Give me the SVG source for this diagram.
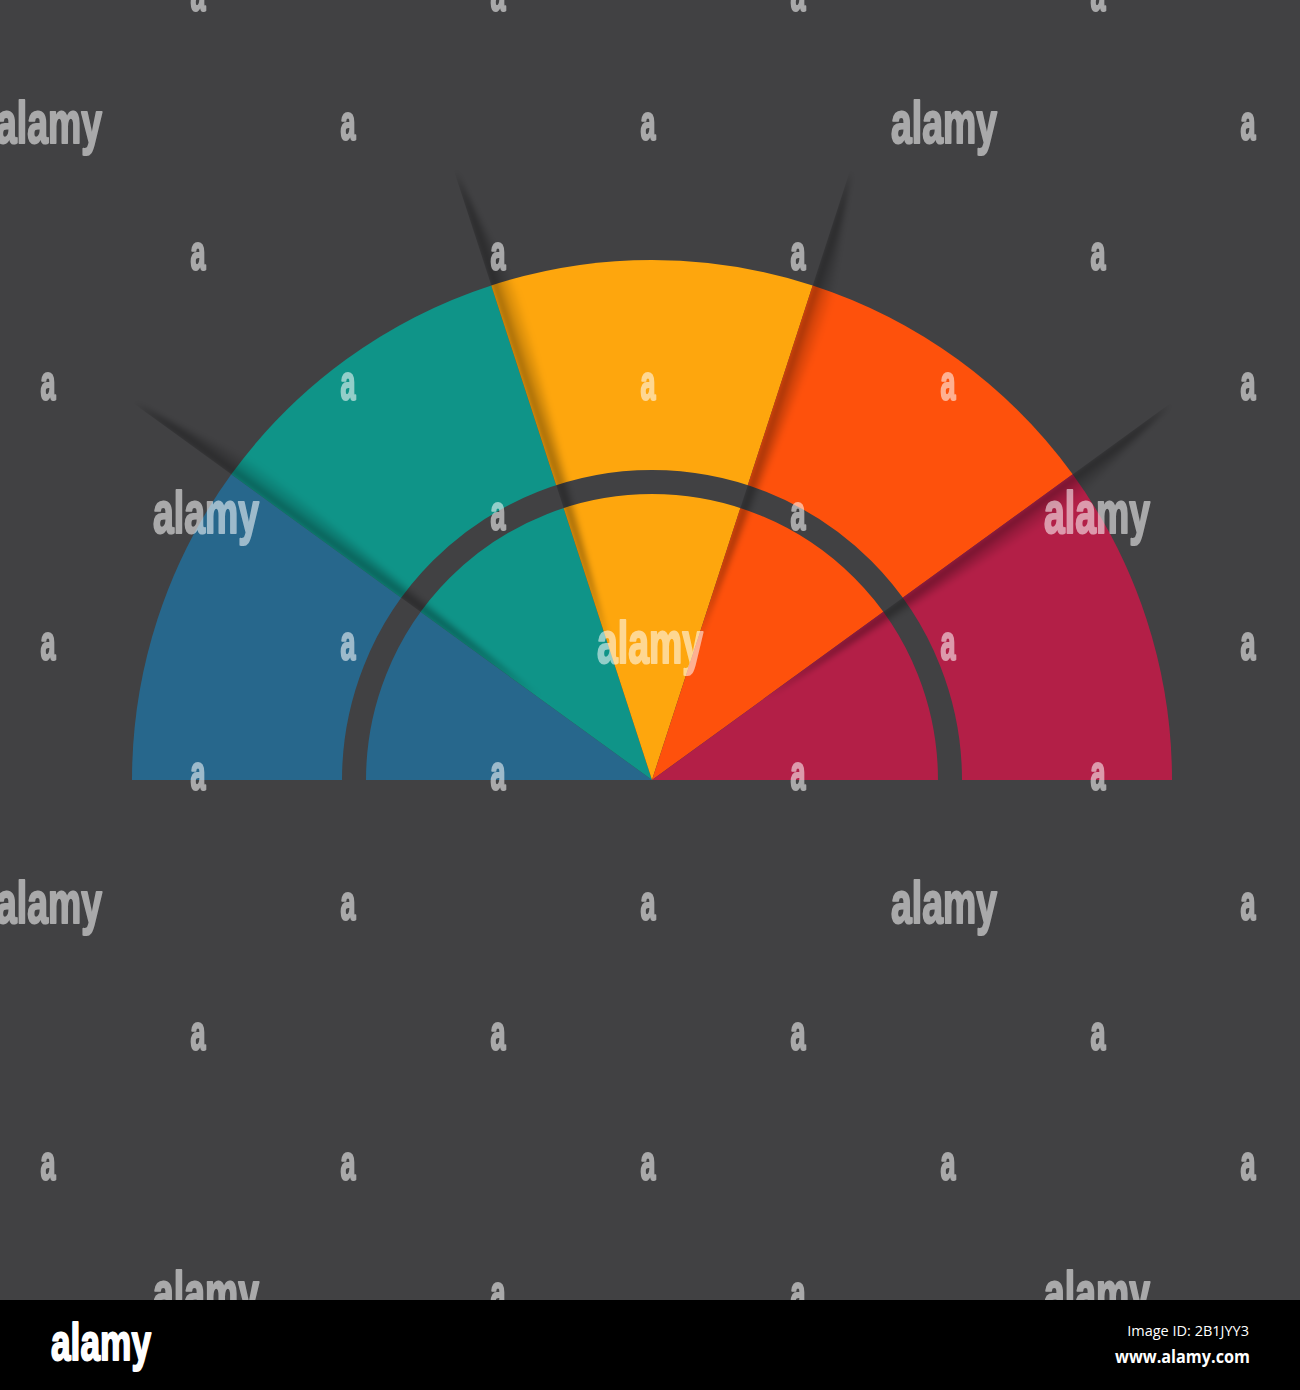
<svg xmlns="http://www.w3.org/2000/svg" width="1300" height="1390" viewBox="0 0 1300 1390">
<style>
.wm{font-family:"Liberation Sans",Arial,sans-serif;font-weight:bold;fill:#ffffff;stroke:#ffffff;stroke-width:2.2;stroke-linejoin:round;text-anchor:middle}
.big{font-size:60px}
.sm{font-size:50px}
</style>
<defs>
<linearGradient id="shg" gradientUnits="userSpaceOnUse" x1="0" y1="0" x2="0" y2="24">
<stop offset="0" stop-color="#000" stop-opacity="0.45"/>
<stop offset="0.4" stop-color="#000" stop-opacity="0.18"/>
<stop offset="1" stop-color="#000" stop-opacity="0"/>
</linearGradient>
<clipPath id="half" clipPathUnits="userSpaceOnUse"><rect x="0" y="0" width="800" height="80"/></clipPath>
<filter id="soft" x="-10%" y="-50%" width="120%" height="200%"><feGaussianBlur stdDeviation="3"/></filter>
</defs>
<rect width="1300" height="1390" fill="#414143"/>
<g id="chart">
<path id="seg-blue" d="M652,780 L132,780 A520,520 0 0 1 231.31,474.35 Z" fill="#27678C"/>
<path id="seg-teal" d="M652,780 L231.31,474.35 A520,520 0 0 1 491.31,285.45 Z" fill="#0F9488"/>
<path id="seg-yellow" d="M652,780 L491.31,285.45 A520,520 0 0 1 812.69,285.45 Z" fill="#FEA60D"/>
<path id="seg-orange" d="M652,780 L812.69,285.45 A520,520 0 0 1 1072.69,474.35 Z" fill="#FE510C"/>
<path id="seg-crimson" d="M652,780 L1072.69,474.35 A520,520 0 0 1 1172,780 Z" fill="#B31F47"/>
<path id="gap" d="M354,780 A298,298 0 0 1 950,780" fill="none" stroke="#414143" stroke-width="24"/>
</g>
<g id="shadows">
<g transform="translate(652,780) rotate(-144)"><path d="M140,0 L500,24 L640,0 Z" fill="url(#shg)" filter="url(#soft)" clip-path="url(#half)"/></g>
<g transform="translate(652,780) rotate(-108)"><path d="M140,0 L500,24 L640,0 Z" fill="url(#shg)" filter="url(#soft)" clip-path="url(#half)"/></g>
<g transform="translate(652,780) rotate(-72)"><path d="M140,0 L500,24 L640,0 Z" fill="url(#shg)" filter="url(#soft)" clip-path="url(#half)"/></g>
<g transform="translate(652,780) rotate(-36)"><path d="M140,0 L500,24 L640,0 Z" fill="url(#shg)" filter="url(#soft)" clip-path="url(#half)"/></g>
</g>
<g id="watermarks" opacity="0.55">
<text class="wm big" x="49" y="143" textLength="106" lengthAdjust="spacingAndGlyphs">alamy</text>
<text class="wm big" x="944" y="143" textLength="106" lengthAdjust="spacingAndGlyphs">alamy</text>
<text class="wm big" x="206" y="533" textLength="106" lengthAdjust="spacingAndGlyphs">alamy</text>
<text class="wm big" x="1097" y="533" textLength="106" lengthAdjust="spacingAndGlyphs">alamy</text>
<text class="wm big" x="650" y="663" textLength="106" lengthAdjust="spacingAndGlyphs">alamy</text>
<text class="wm big" x="49" y="923" textLength="106" lengthAdjust="spacingAndGlyphs">alamy</text>
<text class="wm big" x="944" y="923" textLength="106" lengthAdjust="spacingAndGlyphs">alamy</text>
<text class="wm big" x="206" y="1313" textLength="106" lengthAdjust="spacingAndGlyphs">alamy</text>
<text class="wm big" x="1097" y="1313" textLength="106" lengthAdjust="spacingAndGlyphs">alamy</text>
<text class="wm sm" x="198" y="11" textLength="15" lengthAdjust="spacingAndGlyphs">a</text>
<text class="wm sm" x="498" y="11" textLength="15" lengthAdjust="spacingAndGlyphs">a</text>
<text class="wm sm" x="798" y="11" textLength="15" lengthAdjust="spacingAndGlyphs">a</text>
<text class="wm sm" x="1098" y="11" textLength="15" lengthAdjust="spacingAndGlyphs">a</text>
<text class="wm sm" x="348" y="140" textLength="15" lengthAdjust="spacingAndGlyphs">a</text>
<text class="wm sm" x="648" y="140" textLength="15" lengthAdjust="spacingAndGlyphs">a</text>
<text class="wm sm" x="1248" y="140" textLength="15" lengthAdjust="spacingAndGlyphs">a</text>
<text class="wm sm" x="198" y="270" textLength="15" lengthAdjust="spacingAndGlyphs">a</text>
<text class="wm sm" x="498" y="270" textLength="15" lengthAdjust="spacingAndGlyphs">a</text>
<text class="wm sm" x="798" y="270" textLength="15" lengthAdjust="spacingAndGlyphs">a</text>
<text class="wm sm" x="1098" y="270" textLength="15" lengthAdjust="spacingAndGlyphs">a</text>
<text class="wm sm" x="48" y="400" textLength="15" lengthAdjust="spacingAndGlyphs">a</text>
<text class="wm sm" x="348" y="400" textLength="15" lengthAdjust="spacingAndGlyphs">a</text>
<text class="wm sm" x="648" y="400" textLength="15" lengthAdjust="spacingAndGlyphs">a</text>
<text class="wm sm" x="948" y="400" textLength="15" lengthAdjust="spacingAndGlyphs">a</text>
<text class="wm sm" x="1248" y="400" textLength="15" lengthAdjust="spacingAndGlyphs">a</text>
<text class="wm sm" x="498" y="530" textLength="15" lengthAdjust="spacingAndGlyphs">a</text>
<text class="wm sm" x="798" y="530" textLength="15" lengthAdjust="spacingAndGlyphs">a</text>
<text class="wm sm" x="48" y="660" textLength="15" lengthAdjust="spacingAndGlyphs">a</text>
<text class="wm sm" x="348" y="660" textLength="15" lengthAdjust="spacingAndGlyphs">a</text>
<text class="wm sm" x="948" y="660" textLength="15" lengthAdjust="spacingAndGlyphs">a</text>
<text class="wm sm" x="1248" y="660" textLength="15" lengthAdjust="spacingAndGlyphs">a</text>
<text class="wm sm" x="198" y="790" textLength="15" lengthAdjust="spacingAndGlyphs">a</text>
<text class="wm sm" x="498" y="790" textLength="15" lengthAdjust="spacingAndGlyphs">a</text>
<text class="wm sm" x="798" y="790" textLength="15" lengthAdjust="spacingAndGlyphs">a</text>
<text class="wm sm" x="1098" y="790" textLength="15" lengthAdjust="spacingAndGlyphs">a</text>
<text class="wm sm" x="348" y="920" textLength="15" lengthAdjust="spacingAndGlyphs">a</text>
<text class="wm sm" x="648" y="920" textLength="15" lengthAdjust="spacingAndGlyphs">a</text>
<text class="wm sm" x="1248" y="920" textLength="15" lengthAdjust="spacingAndGlyphs">a</text>
<text class="wm sm" x="198" y="1050" textLength="15" lengthAdjust="spacingAndGlyphs">a</text>
<text class="wm sm" x="498" y="1050" textLength="15" lengthAdjust="spacingAndGlyphs">a</text>
<text class="wm sm" x="798" y="1050" textLength="15" lengthAdjust="spacingAndGlyphs">a</text>
<text class="wm sm" x="1098" y="1050" textLength="15" lengthAdjust="spacingAndGlyphs">a</text>
<text class="wm sm" x="48" y="1180" textLength="15" lengthAdjust="spacingAndGlyphs">a</text>
<text class="wm sm" x="348" y="1180" textLength="15" lengthAdjust="spacingAndGlyphs">a</text>
<text class="wm sm" x="648" y="1180" textLength="15" lengthAdjust="spacingAndGlyphs">a</text>
<text class="wm sm" x="948" y="1180" textLength="15" lengthAdjust="spacingAndGlyphs">a</text>
<text class="wm sm" x="1248" y="1180" textLength="15" lengthAdjust="spacingAndGlyphs">a</text>
<text class="wm sm" x="498" y="1310" textLength="15" lengthAdjust="spacingAndGlyphs">a</text>
<text class="wm sm" x="798" y="1310" textLength="15" lengthAdjust="spacingAndGlyphs">a</text>
</g>
<g id="footer">
<rect x="0" y="1300" width="1300" height="90" fill="#000"/>
<text x="51" y="1360" font-family="Liberation Sans, Arial, sans-serif" font-weight="bold" font-size="52" fill="#fff" stroke="#fff" stroke-width="2" stroke-linejoin="round" textLength="100" lengthAdjust="spacingAndGlyphs">alamy</text>
<text x="1249" y="1336" font-family="Open Sans, sans-serif" font-size="14.5" fill="#fff" text-anchor="end">Image ID: 2B1JYY3</text>
<text x="1250" y="1363" font-family="Open Sans, sans-serif" font-weight="bold" font-size="18" fill="#fff" text-anchor="end" textLength="135" lengthAdjust="spacingAndGlyphs">www.alamy.com</text>
</g>
</svg>
